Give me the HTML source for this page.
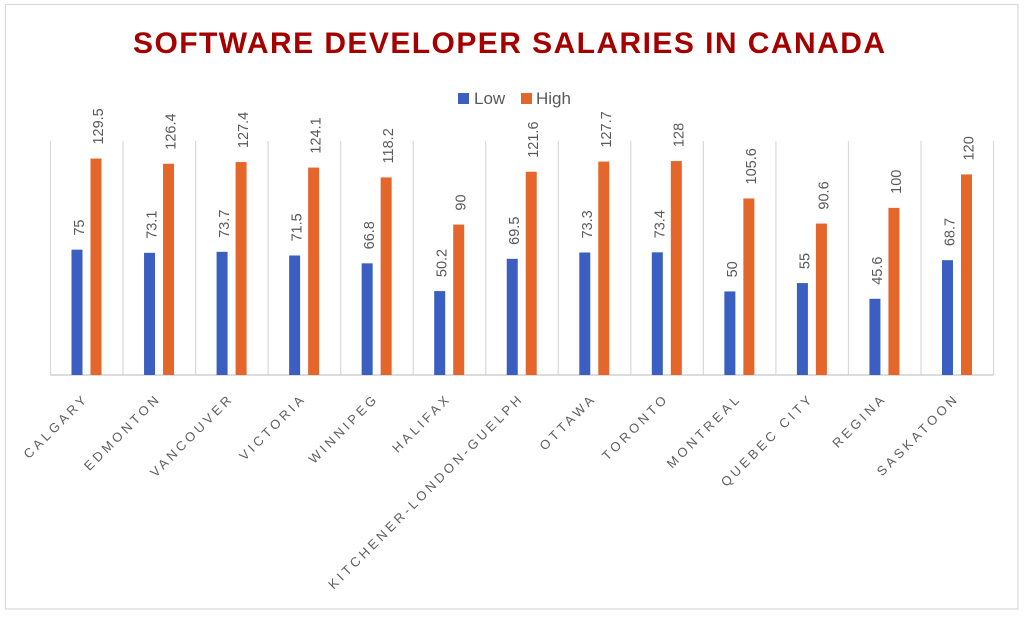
<!DOCTYPE html>
<html><head><meta charset="utf-8"><style>
html,body{margin:0;padding:0;background:#fff;}
svg{display:block;}
text{font-family:"Liberation Sans",sans-serif;}
</style></head><body>
<svg width="1024" height="619" viewBox="0 0 1024 619" xmlns="http://www.w3.org/2000/svg">
<rect x="0" y="0" width="1024" height="619" fill="#fff"/>
<rect x="5.5" y="4.5" width="1012.5" height="604.5" fill="#fff" stroke="#d9d9d9" stroke-width="1.2"/>
<text x="509" y="53" text-anchor="middle" font-size="30" font-weight="bold" fill="#a50000" textLength="752" lengthAdjust="spacing">SOFTWARE DEVELOPER SALARIES IN CANADA</text>
<rect x="458" y="93" width="11" height="11" fill="#3a5fc1"/>
<text x="474" y="104" font-size="17" fill="#595959">Low</text>
<rect x="521" y="93" width="11" height="11" fill="#e5662a"/>
<text x="536" y="104" font-size="17" fill="#595959">High</text>
<g id="chart"></g>
</svg>
<script>
(function(){
var ns="http://www.w3.org/2000/svg";
var g=document.getElementById("chart");
var names=["CALGARY","EDMONTON","VANCOUVER","VICTORIA","WINNIPEG","HALIFAX","KITCHENER-LONDON-GUELPH","OTTAWA","TORONTO","MONTREAL","QUEBEC CITY","REGINA","SASKATOON"];
var low=[75,73.1,73.7,71.5,66.8,50.2,69.5,73.3,73.4,50,55,45.6,68.7];
var high=[129.5,126.4,127.4,124.1,118.2,90,121.6,127.7,128,105.6,90.6,100,120];
var left=50.5,cw=72.54,base=375,sc=234/140;
function el(t,a,txt){var e=document.createElementNS(ns,t);for(var k in a)e.setAttribute(k,a[k]);if(txt!==undefined)e.textContent=txt;g.appendChild(e);return e;}
for(var i=0;i<=13;i++){var x=left+i*cw;el("line",{x1:x,y1:141,x2:x,y2:base,stroke:"#d9d9d9","stroke-width":1.2});}
el("line",{x1:left,y1:base,x2:left+13*cw,y2:base,stroke:"#d0d0d0","stroke-width":1.5});
for(var i=0;i<13;i++){
 var s=left+i*cw;
 var bl=s+21,bh=s+40;
 var tl=base-low[i]*sc,th=base-high[i]*sc;
 el("rect",{x:bl,y:tl,width:11,height:base-tl,fill:"#3a5fc1"});
 el("rect",{x:bh,y:th,width:11,height:base-th,fill:"#e5662a"});
 var lx=bl+5.5+7,ly=tl-14;
 el("text",{x:lx,y:ly,"font-size":14.5,fill:"#595959",transform:"rotate(-90 "+lx+" "+ly+")"},String(low[i]));
 var hx=bh+5.5+7,hy=th-14;
 el("text",{x:hx,y:hy,"font-size":14.5,fill:"#595959",transform:"rotate(-90 "+hx+" "+hy+")"},String(high[i]));
 var cx=s+cw/2;
 var ax=cx+2.5,ay=399;
 el("text",{x:ax,y:ay,"font-size":13,fill:"#5f5f5f","letter-spacing":"3.35","text-anchor":"end",transform:"rotate(-45 "+ax+" "+ay+")"},names[i]);
}
})();
</script>
</body></html>
